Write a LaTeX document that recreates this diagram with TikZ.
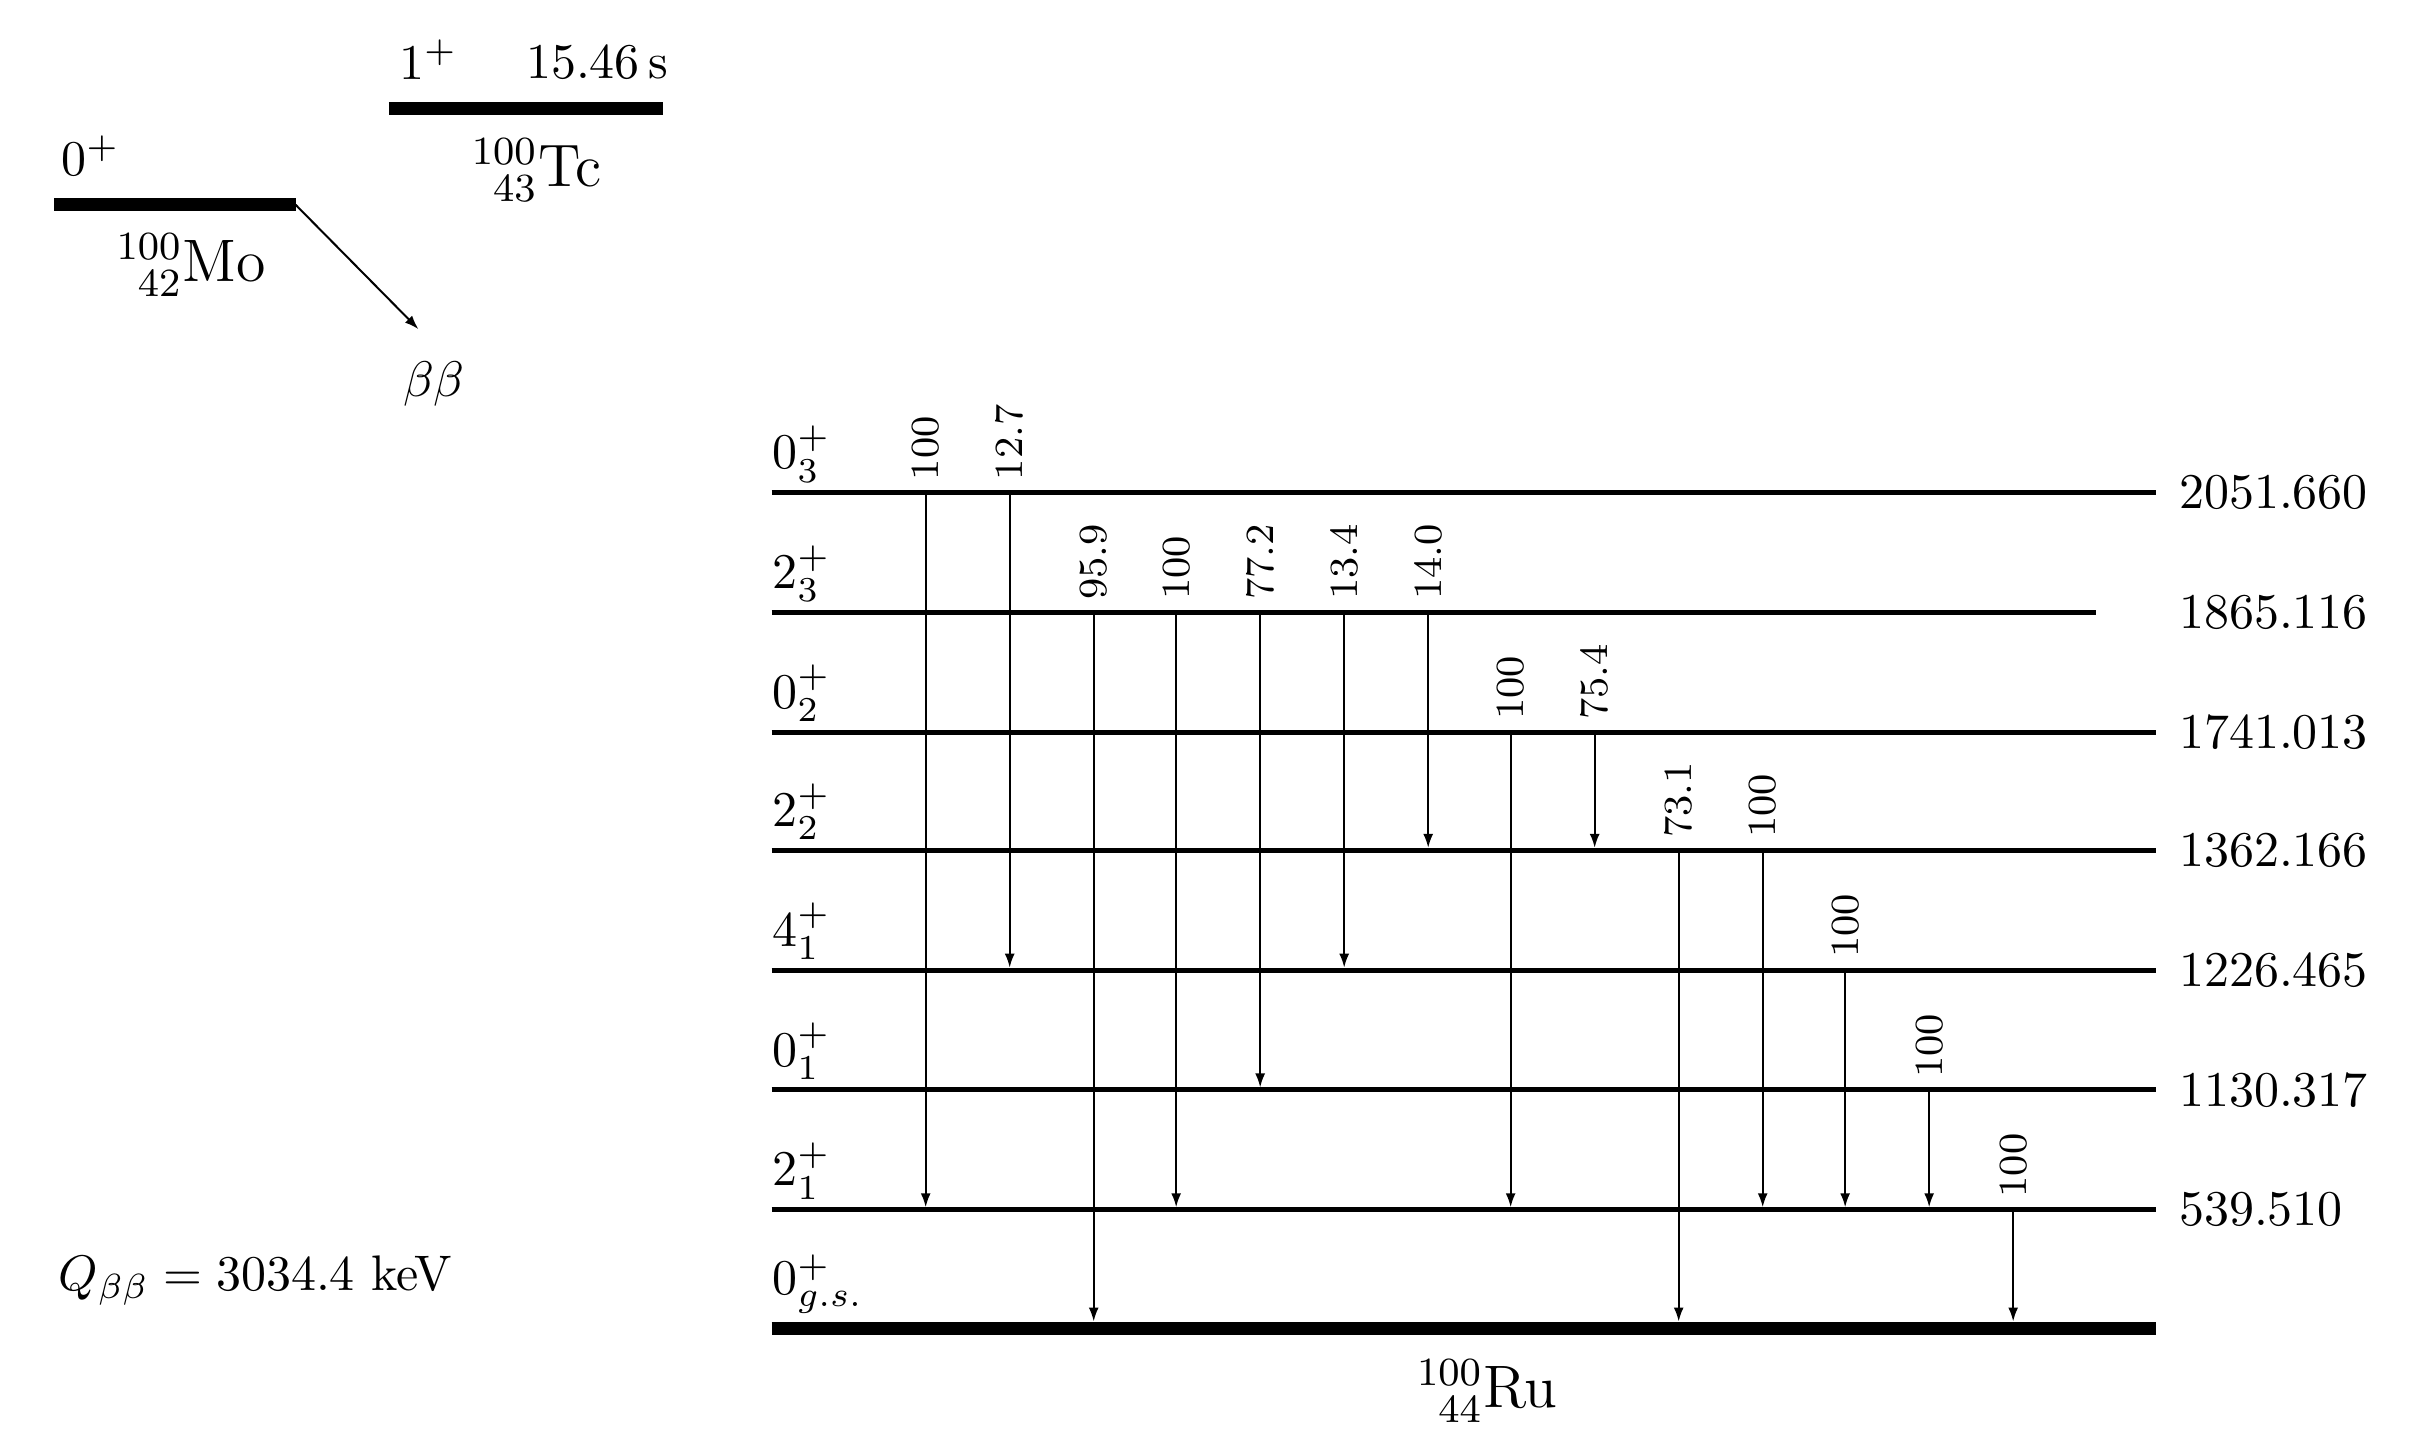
\documentclass[tikz,border=0pt]{standalone}
\usepackage{amsmath,amssymb}
\usepackage{tikz}
\usetikzlibrary{arrows.meta}

\begin{document}
\begin{tikzpicture}[line join=round,>={Latex[length=2.8pt,width=2pt]},x=1.094cm,y=1.094cm,
        lvl/.style={line width=1pt},
        gsbar/.style={line width=2.6pt},
        gam/.style={->,line width=0.4pt,shorten >=0.5pt},
        ilab/.style={rotate=90,anchor=west,inner sep=2.3pt,font=\footnotesize},
        jlab/.style={anchor=south west,inner xsep=0pt,inner ysep=1.9pt},
        elab/.style={anchor=west,inner sep=0pt}]
        \useasboundingbox (0,0) rectangle (15.60,9.346);
        % parent and intermediate nuclei
        \coordinate (mol) at (0.35,8.03);
        \coordinate (mor) at (1.90,8.03);
        \coordinate (tcl) at (2.50,8.65);
        \coordinate (tcr) at (4.26,8.65);
        \coordinate (bbtip) at (2.69,7.23);
        \draw [gsbar] (mol) -- (mor);
        \draw [gsbar] (tcl) -- (tcr);
        \node [anchor=south west,inner sep=0pt] (mospin) at (0.39,8.21) {$0^+$};
        \node [anchor=south west,inner sep=0pt] (tcspin) at (2.56,8.83) {$1^+$};
        \node [anchor=south east,inner sep=0pt] (tclife) at (4.30,8.83) {15.46\,s};
        \node [anchor=north,inner sep=0pt,font=\large] (mo) at (1.23,7.85) {${}^{100}_{\hphantom{1}42}$Mo};
        \node [anchor=north,inner sep=0pt,font=\large] (tc) at (3.45,8.46) {${}^{100}_{\hphantom{1}43}$Tc};
        \node [anchor=north,inner sep=0pt] (bb) at (2.79,7.03) {$\beta\beta$};
        \draw [->] (mor) -- (bbtip);
        \node [anchor=base west,inner sep=0pt] (qbb) at (0.37,1.05) {$Q_{\beta\beta}=3034.4$ keV};
        % Ru-100 levels
        \coordinate (L03) at (4.96,6.18); \coordinate (R03) at (13.86,6.18);
        \coordinate (L23) at (4.96,5.41); \coordinate (R23) at (13.47,5.41);
        \coordinate (L02) at (4.96,4.64); \coordinate (R02) at (13.86,4.64);
        \coordinate (L22) at (4.96,3.88); \coordinate (R22) at (13.86,3.88);
        \coordinate (L41) at (4.96,3.11); \coordinate (R41) at (13.86,3.11);
        \coordinate (L01) at (4.96,2.34); \coordinate (R01) at (13.86,2.34);
        \coordinate (L21) at (4.96,1.57); \coordinate (R21) at (13.86,1.57);
        \coordinate (Lgs) at (4.96,0.81); \coordinate (Rgs) at (13.86,0.81);
        \draw [lvl] (L03) -- (R03);
        \draw [lvl] (L23) -- (R23);
        \draw [lvl] (L02) -- (R02);
        \draw [lvl] (L22) -- (R22);
        \draw [lvl] (L41) -- (R41);
        \draw [lvl] (L01) -- (R01);
        \draw [lvl] (L21) -- (R21);
        \draw [gsbar] (Lgs) -- (Rgs);
        \node [jlab] (j03) at (L03) {$0_3^+$};
        \node [jlab] (j23) at (L23) {$2_3^+$};
        \node [jlab] (j02) at (L02) {$0_2^+$};
        \node [jlab] (j22) at (L22) {$2_2^+$};
        \node [jlab] (j41) at (L41) {$4_1^+$};
        \node [jlab] (j01) at (L01) {$0_1^+$};
        \node [jlab] (j21) at (L21) {$2_1^+$};
        \node [jlab,yshift=0.75pt] (jgs) at (Lgs) {$0_{g.s.}^+$};
        \node [elab] (e03) at (14.00,6.18) {2051.660};
        \node [elab] (e23) at (14.00,5.41) {1865.116};
        \node [elab] (e02) at (14.00,4.64) {1741.013};
        \node [elab] (e22) at (14.00,3.88) {1362.166};
        \node [elab] (e41) at (14.00,3.11) {1226.465};
        \node [elab] (e01) at (14.00,2.34) {1130.317};
        \node [elab] (e21) at (14.00,1.57) {539.510};
        \node [anchor=north,inner sep=0pt,font=\large] (ru) at (9.56,0.61) {${}^{100}_{\hphantom{1}44}$Ru};
        % gamma transitions
        \draw [gam] (5.95,0 |- L03) node [ilab] (g1) {100} -- (5.95,0 |- L21);
        \draw [gam] (6.49,0 |- L03) node [ilab] (g2) {12.7} -- (6.49,0 |- L41);
        \draw [gam,shorten >=1.3pt] (7.03,0 |- L23) node [ilab] (g3) {95.9} -- (7.03,0 |- Lgs);
        \draw [gam] (7.56,0 |- L23) node [ilab] (g4) {100} -- (7.56,0 |- L21);
        \draw [gam] (8.10,0 |- L23) node [ilab] (g5) {77.2} -- (8.10,0 |- L01);
        \draw [gam] (8.64,0 |- L23) node [ilab] (g6) {13.4} -- (8.64,0 |- L41);
        \draw [gam] (9.18,0 |- L23) node [ilab] (g7) {14.0} -- (9.18,0 |- L22);
        \draw [gam] (9.71,0 |- L02) node [ilab] (g8) {100} -- (9.71,0 |- L21);
        \draw [gam] (10.25,0 |- L02) node [ilab] (g9) {75.4} -- (10.25,0 |- L22);
        \draw [gam,shorten >=1.3pt] (10.79,0 |- L22) node [ilab] (g10) {73.1} -- (10.79,0 |- Lgs);
        \draw [gam] (11.33,0 |- L22) node [ilab] (g11) {100} -- (11.33,0 |- L21);
        \draw [gam] (11.86,0 |- L41) node [ilab] (g12) {100} -- (11.86,0 |- L21);
        \draw [gam] (12.40,0 |- L01) node [ilab] (g13) {100} -- (12.40,0 |- L21);
        \draw [gam,shorten >=1.3pt] (12.94,0 |- L21) node [ilab] (g14) {100} -- (12.94,0 |- Lgs);
\end{tikzpicture}
\end{document}
